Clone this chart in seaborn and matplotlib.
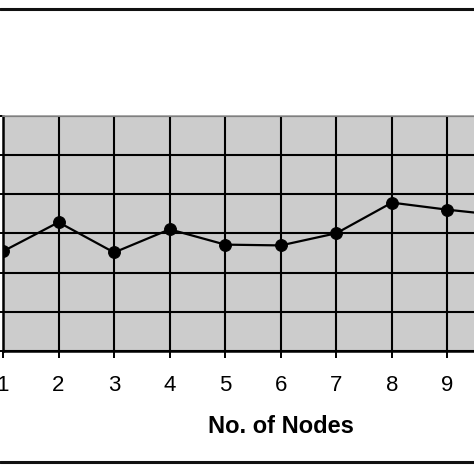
import matplotlib
matplotlib.use("Agg")
import pandas as pd
import matplotlib.pyplot as plt
import seaborn as sns
from matplotlib.lines import Line2D

# values (grid step = 1 unit)
nodes = [1, 2, 3, 4, 5, 6, 7, 8, 9, 10]
values = [2.54, 3.28, 2.51, 3.10, 2.71, 2.69, 3.00, 3.78, 3.60, 3.45]
x_ticks = list(range(1, 12))
y_ticks = list(range(0, 7))

sns.set_style("white")
plt.rcParams['font.family'] = ['Liberation Sans', 'DejaVu Sans']

fig = plt.figure(figsize=(4.74, 4.74), dpi=100)
# plot area is cropped on the left and right in the original
ax = fig.add_axes([3/474, 123/474, 555.6/474, 235.5/474])
ax.set_facecolor('#cccccc')

df = pd.DataFrame({'nodes': nodes, 'value': values})
sns.lineplot(data=df, x='nodes', y='value', ax=ax, color='black', lw=1.6,
             marker='o', markersize=8.5, markeredgecolor='black', zorder=3)

ax.set_xlim(1, 11)
ax.set_ylim(0, 6)
ax.set_xticks(x_ticks)
ax.set_yticks(y_ticks)
ax.grid(True, color='black', lw=1.5)

ax.tick_params(axis='both', bottom=True, left=True, direction='out',
               length=5, width=1.4, color='black', labelsize=16, labelcolor='black')
ax.tick_params(axis='x', pad=12)
ax.set_xlabel('No. of Nodes', fontsize=17, fontweight='bold', labelpad=14, color='black')
ax.set_ylabel('')

ax.spines['top'].set_color('#999999')
ax.spines['top'].set_linewidth(1.2)
for s in ['left', 'bottom', 'right']:
    ax.spines[s].set_color('black')
    ax.spines[s].set_linewidth(1.8)

# outer chart border (only top and bottom edges visible)
for yy in (1 - 9/474, 1 - 462/474):
    fig.add_artist(Line2D([0, 1], [yy, yy], transform=fig.transFigure,
                          color='#111111', lw=2.2))

fig.savefig('out.png', dpi=100)
